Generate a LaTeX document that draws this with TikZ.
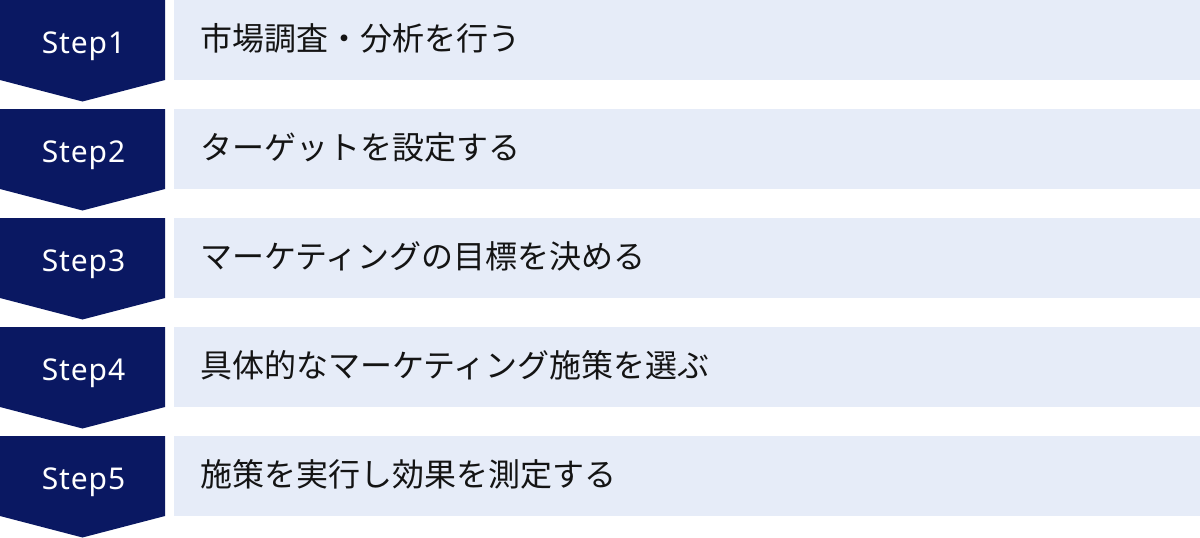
\documentclass[tikz,border=0pt]{standalone}
\usepackage{fontspec}
\setmainfont{Noto Sans CJK JP}
\newfontfamily\jpfont{Noto Sans CJK JP}
\newfontfamily\latinfont[LetterSpace=3]{Noto Sans}
\definecolor{navy}{RGB}{10,24,98}
\definecolor{lightbg}{RGB}{230,236,248}
\definecolor{txt}{RGB}{20,20,20}
\tikzset{
  stepshape/.style={fill=navy, draw=none},
  bandbox/.style={fill=lightbg, draw=none},
  steplabel/.style={text=white, font=\latinfont\fontsize{30}{36}\selectfont, anchor=base, inner sep=0pt},
  bandlabel/.style={text=txt, font=\jpfont\fontsize{32}{38}\selectfont, anchor=base west, inner sep=0pt},
}
\begin{document}
\begin{tikzpicture}[x=1pt,y=-1pt]
\useasboundingbox (0,0) rectangle (1200,538);
\foreach \i/\lab/\txt in {0/Step1/市場調査・分析を行う,1/Step2/ターゲットを設定する,2/Step3/マーケティングの目標を決める,3/Step4/具体的なマーケティング施策を選ぶ,4/Step5/施策を実行し効果を測定する}{
  \pgfmathsetmacro{\t}{109*\i}
  \fill[stepshape] (0,\t) -- (165,\t) -- (165,\t+80) -- (82.5,\t+101.5) -- (0,\t+80) -- cycle;
  \fill[bandbox] (174,\t) rectangle (1200,\t+79.5);
  \node[steplabel] (s\i) at (83.5,\t+53.5) {\lab};
  \node[bandlabel] (b\i) at (200,\t+50) {\txt};
}
\end{tikzpicture}
\end{document}
